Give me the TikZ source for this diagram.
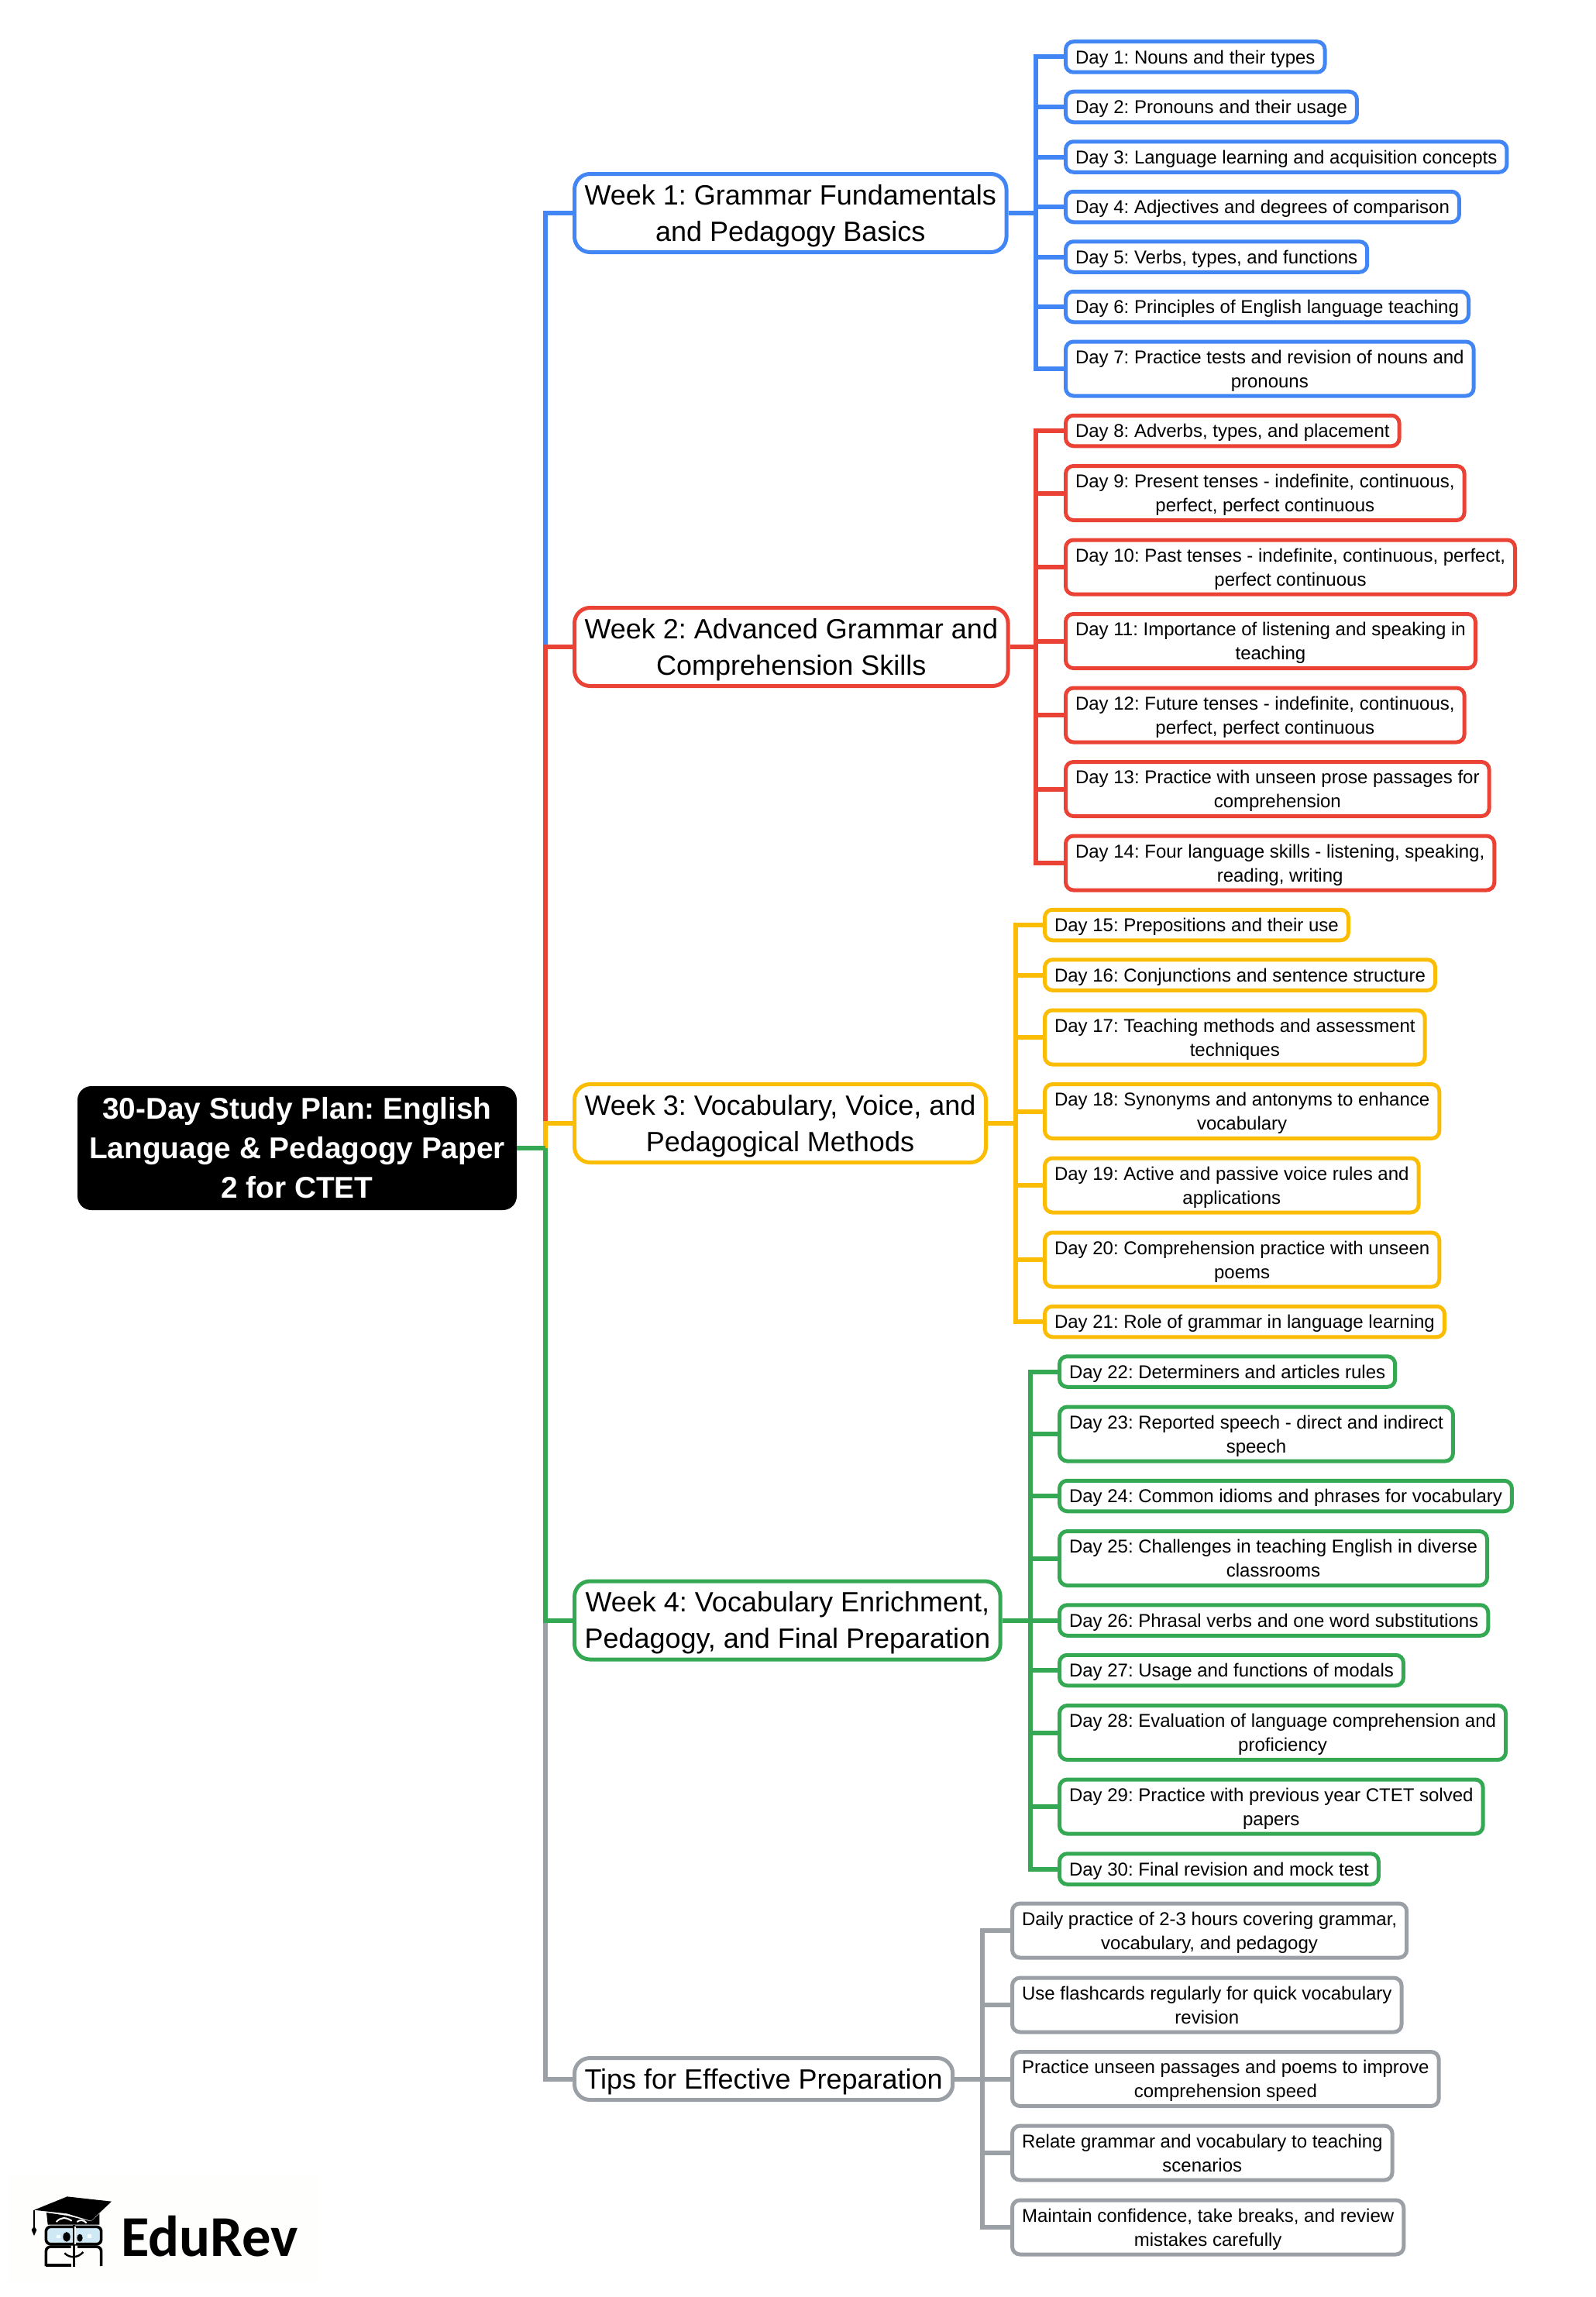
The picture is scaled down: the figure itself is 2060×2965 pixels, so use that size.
\documentclass[tikz,border=0pt]{standalone}
\usepackage{fontspec}
\setmainfont{Liberation Sans}
\newfontfamily\logofont{Carlito}
\usepackage{tikz}
\frenchspacing

\definecolor{weekblue}{HTML}{4285F4}
\definecolor{weekred}{HTML}{EA4335}
\definecolor{weekyellow}{HTML}{FBBC04}
\definecolor{weekgreen}{HTML}{34A853}
\definecolor{tipgrey}{HTML}{9AA0A6}
\definecolor{glasslens}{HTML}{CFE8F6}
\definecolor{logopaper}{HTML}{FEFEFD}

\begin{document}
\begin{tikzpicture}[
      x=0.5pt,y=-0.5pt,
      rootbox/.style={fill=black,text=white,rounded corners=9pt,inner xsep=4pt,minimum height=80pt,minimum width=283.5pt,align=center,font=\fontsize{19.4}{25.5}\selectfont\bfseries},
      weekbase/.style={draw=#1,line width=2.5pt,fill=white,rounded corners=10pt,anchor=west,inner xsep=6.5pt,inner ysep=0pt,align=center,font=\fontsize{18}{23.5}\selectfont,execute at end node={\rule[-3.8pt]{0pt}{3.8pt}}},
      week/.style={weekbase=#1,minimum height=50.5pt,execute at begin node={\rule{0pt}{40.2pt}}},
      weekone/.style={weekbase=#1,minimum height=27pt,execute at begin node={\rule{0pt}{16.7pt}}},
      day/.style={draw=#1,line width=2.5pt,fill=white,rounded corners=5pt,anchor=west,inner xsep=6.25pt,inner ysep=0pt,minimum height=19.75pt,align=center,font=\fontsize{12}{15.5}\selectfont,execute at begin node={\rule{0pt}{11.4pt}},execute at end node={\rule[-2.6pt]{0pt}{2.6pt}}},
      daytwo/.style={day=#1,minimum height=35pt,execute at begin node={\rule{0pt}{26.9pt}}},
      wire/.style={draw=#1,line width=3pt}
    ]
    \useasboundingbox (0,0) rectangle (2060,2965);
    % Draw the root and the weeks.
    \node[rootbox] (root) at (383.5,1482) {30-Day Study Plan: English\\Language \& Pedagogy Paper\\2 for CTET};
    \node[week=weekblue] (w1) at (739,275) {Week 1: Grammar Fundamentals\\and Pedagogy Basics};
    \node[week=weekred] (w2) at (739,835) {Week 2: Advanced Grammar and\\Comprehension Skills};
    \node[week=weekyellow] (w3) at (739,1450) {Week 3: Vocabulary, Voice, and\\Pedagogical Methods};
    \node[week=weekgreen] (w4) at (739,2091.5) {Week 4: Vocabulary Enrichment,\\Pedagogy, and Final Preparation};
    \node[weekone=tipgrey] (tips) at (739,2683.5) {Tips for Effective Preparation};
    % Draw the days of week 1.
    \node[day=weekblue] (d1) at (1373,73.5) {Day 1: Nouns and their types};
    \node[day=weekblue] (d2) at (1373,138) {Day 2: Pronouns and their usage};
    \node[day=weekblue] (d3) at (1373,202.5) {Day 3: Language learning and acquisition concepts};
    \node[day=weekblue] (d4) at (1373,267) {Day 4: Adjectives and degrees of comparison};
    \node[day=weekblue] (d5) at (1373,331.5) {Day 5: Verbs, types, and functions};
    \node[day=weekblue] (d6) at (1373,396) {Day 6: Principles of English language teaching};
    \node[daytwo=weekblue] (d7) at (1373,476) {Day 7: Practice tests and revision of nouns and\\pronouns};
    % Draw the days of week 2.
    \node[day=weekred] (d8) at (1373,556) {Day 8: Adverbs, types, and placement};
    \node[daytwo=weekred] (d9) at (1373,636.5) {Day 9: Present tenses - indefinite, continuous,\\perfect, perfect continuous};
    \node[daytwo=weekred] (d10) at (1373,732) {Day 10: Past tenses - indefinite, continuous, perfect,\\perfect continuous};
    \node[daytwo=weekred] (d11) at (1373,827.5) {Day 11: Importance of listening and speaking in\\teaching};
    \node[daytwo=weekred] (d12) at (1373,923) {Day 12: Future tenses - indefinite, continuous,\\perfect, perfect continuous};
    \node[daytwo=weekred] (d13) at (1373,1018.5) {Day 13: Practice with unseen prose passages for\\comprehension};
    \node[daytwo=weekred] (d14) at (1373,1114) {Day 14: Four language skills - listening, speaking,\\reading, writing};
    % Draw the days of week 3.
    \node[day=weekyellow] (d15) at (1346,1194) {Day 15: Prepositions and their use};
    \node[day=weekyellow] (d16) at (1346,1258.5) {Day 16: Conjunctions and sentence structure};
    \node[daytwo=weekyellow] (d17) at (1346,1339) {Day 17: Teaching methods and assessment\\techniques};
    \node[daytwo=weekyellow] (d18) at (1346,1434.5) {Day 18: Synonyms and antonyms to enhance\\vocabulary};
    \node[daytwo=weekyellow] (d19) at (1346,1530) {Day 19: Active and passive voice rules and\\applications};
    \node[daytwo=weekyellow] (d20) at (1346,1626) {Day 20: Comprehension practice with unseen\\poems};
    \node[day=weekyellow] (d21) at (1346,1706) {Day 21: Role of grammar in language learning};
    % Draw the days of week 4.
    \node[day=weekgreen] (d22) at (1365,1770.5) {Day 22: Determiners and articles rules};
    \node[daytwo=weekgreen] (d23) at (1365,1851) {Day 23: Reported speech - direct and indirect\\speech};
    \node[day=weekgreen] (d24) at (1365,1931) {Day 24: Common idioms and phrases for vocabulary};
    \node[daytwo=weekgreen] (d25) at (1365,2011.5) {Day 25: Challenges in teaching English in diverse\\classrooms};
    \node[day=weekgreen] (d26) at (1365,2091.5) {Day 26: Phrasal verbs and one word substitutions};
    \node[day=weekgreen] (d27) at (1365,2156) {Day 27: Usage and functions of modals};
    \node[daytwo=weekgreen] (d28) at (1365,2236.5) {Day 28: Evaluation of language comprehension and\\proficiency};
    \node[daytwo=weekgreen] (d29) at (1365,2332) {Day 29: Practice with previous year CTET solved\\papers};
    \node[day=weekgreen] (d30) at (1365,2412.5) {Day 30: Final revision and mock test};
    % Draw the tips.
    \node[daytwo=tipgrey] (t1) at (1304,2492) {Daily practice of 2-3 hours covering grammar,\\vocabulary, and pedagogy};
    \node[daytwo=tipgrey] (t2) at (1304,2588) {Use flashcards regularly for quick vocabulary\\revision};
    \node[daytwo=tipgrey] (t3) at (1304,2683.5) {Practice unseen passages and poems to improve\\comprehension speed};
    \node[daytwo=tipgrey] (t4) at (1304,2779) {Relate grammar and vocabulary to teaching\\scenarios};
    \node[daytwo=tipgrey] (t5) at (1304,2875) {Maintain confidence, take breaks, and review\\mistakes carefully};
    % The bus points of the branches.
    \coordinate (rootbus) at (704,1482);
    \coordinate (w1bus) at (1337,275);
    \coordinate (w2bus) at (1337,835);
    \coordinate (w3bus) at (1311,1450);
    \coordinate (w4bus) at (1330,2091.5);
    \coordinate (tipsbus) at (1268,2683.5);
    % Draw the branches of the root.
    \draw[wire=weekblue] (rootbus) |- (w1.west);
    \draw[wire=weekred] (rootbus) |- (w2.west);
    \draw[wire=weekyellow] (rootbus) |- (w3.west);
    \draw[wire=tipgrey] (rootbus) |- (tips.west);
    \draw[wire=weekgreen] (rootbus) |- (w4.west);
    \draw[wire=weekgreen] (root.east) -- (rootbus);
    % Draw the branches of week 1.
    \draw[wire=weekblue] (w1.east) -- (w1bus);
    \draw[wire=weekblue] (w1bus) |- (d1.west);
    \draw[wire=weekblue] (w1bus) |- (d2.west);
    \draw[wire=weekblue] (w1bus) |- (d3.west);
    \draw[wire=weekblue] (w1bus) |- (d4.west);
    \draw[wire=weekblue] (w1bus) |- (d5.west);
    \draw[wire=weekblue] (w1bus) |- (d6.west);
    \draw[wire=weekblue] (w1bus) |- (d7.west);
    % Draw the branches of week 2.
    \draw[wire=weekred] (w2.east) -- (w2bus);
    \draw[wire=weekred] (w2bus) |- (d8.west);
    \draw[wire=weekred] (w2bus) |- (d9.west);
    \draw[wire=weekred] (w2bus) |- (d10.west);
    \draw[wire=weekred] (w2bus) |- (d11.west);
    \draw[wire=weekred] (w2bus) |- (d12.west);
    \draw[wire=weekred] (w2bus) |- (d13.west);
    \draw[wire=weekred] (w2bus) |- (d14.west);
    % Draw the branches of week 3.
    \draw[wire=weekyellow] (w3.east) -- (w3bus);
    \draw[wire=weekyellow] (w3bus) |- (d15.west);
    \draw[wire=weekyellow] (w3bus) |- (d16.west);
    \draw[wire=weekyellow] (w3bus) |- (d17.west);
    \draw[wire=weekyellow] (w3bus) |- (d18.west);
    \draw[wire=weekyellow] (w3bus) |- (d19.west);
    \draw[wire=weekyellow] (w3bus) |- (d20.west);
    \draw[wire=weekyellow] (w3bus) |- (d21.west);
    % Draw the branches of week 4.
    \draw[wire=weekgreen] (w4.east) -- (w4bus);
    \draw[wire=weekgreen] (w4bus) |- (d22.west);
    \draw[wire=weekgreen] (w4bus) |- (d23.west);
    \draw[wire=weekgreen] (w4bus) |- (d24.west);
    \draw[wire=weekgreen] (w4bus) |- (d25.west);
    \draw[wire=weekgreen] (w4bus) |- (d26.west);
    \draw[wire=weekgreen] (w4bus) |- (d27.west);
    \draw[wire=weekgreen] (w4bus) |- (d28.west);
    \draw[wire=weekgreen] (w4bus) |- (d29.west);
    \draw[wire=weekgreen] (w4bus) |- (d30.west);
    % Draw the branches of the tips.
    \draw[wire=tipgrey] (tips.east) -- (tipsbus);
    \draw[wire=tipgrey] (tipsbus) |- (t1.west);
    \draw[wire=tipgrey] (tipsbus) |- (t2.west);
    \draw[wire=tipgrey] (tipsbus) |- (t3.west);
    \draw[wire=tipgrey] (tipsbus) |- (t4.west);
    \draw[wire=tipgrey] (tipsbus) |- (t5.west);
    % Draw the logo.
    \fill[logopaper] (10,2808) rectangle (410,2947);
    \node[anchor=base west,inner sep=0pt,font=\fontsize{37.3}{40}\selectfont\logofont\bfseries] (logoname) at (156,2912) {EduRev};
    \begin{scope}[shift={(0,2780)},x=0.1667pt,y=-0.1667pt]
      \fill (132,218) -- (260,166) -- (432,185) -- (352,260) -- (260,232) -- cycle;
      \fill (180,228) -- (260,240) -- (352,262) -- (385,232) -- (385,275) -- (185,275) -- cycle;
      \draw[white,line width=1pt] (218,264) .. controls (235,245) and (255,245) .. (278,260);
      \draw[white,line width=1pt] (298,264) .. controls (310,255) and (322,255) .. (335,268);
      \draw[line width=1pt] (132,218) -- (132,285);
      \fill (132,280) -- (142,295) -- (132,318) -- (122,295) -- cycle;
      \draw[line width=1.8pt,fill=glasslens,rounded corners=3pt] (178,283) rectangle (392,350);
      \draw[line width=1.8pt,rounded corners=3pt] (178,435) -- (178,360) -- (275,360);
      \draw[line width=1.8pt,rounded corners=3pt] (275,432) -- (178,432);
      \draw[line width=1.8pt,rounded corners=3pt] (300,360) -- (392,360) -- (392,435);
      \draw[line width=1.8pt] (287,275) -- (287,437);
      \fill[white] (287,283) rectangle (293,350);
      \fill (258,322) ellipse (14 and 19);
      \fill (309,326) ellipse (11 and 15);
      \fill[white] (218,314) rectangle (234,328);
      \fill[white] (338,312) rectangle (354,326);
      \draw[line width=1.2pt] (250,385) .. controls (270,405) and (300,405) .. (322,381);
    \end{scope}
    \end{tikzpicture}
\end{document}
